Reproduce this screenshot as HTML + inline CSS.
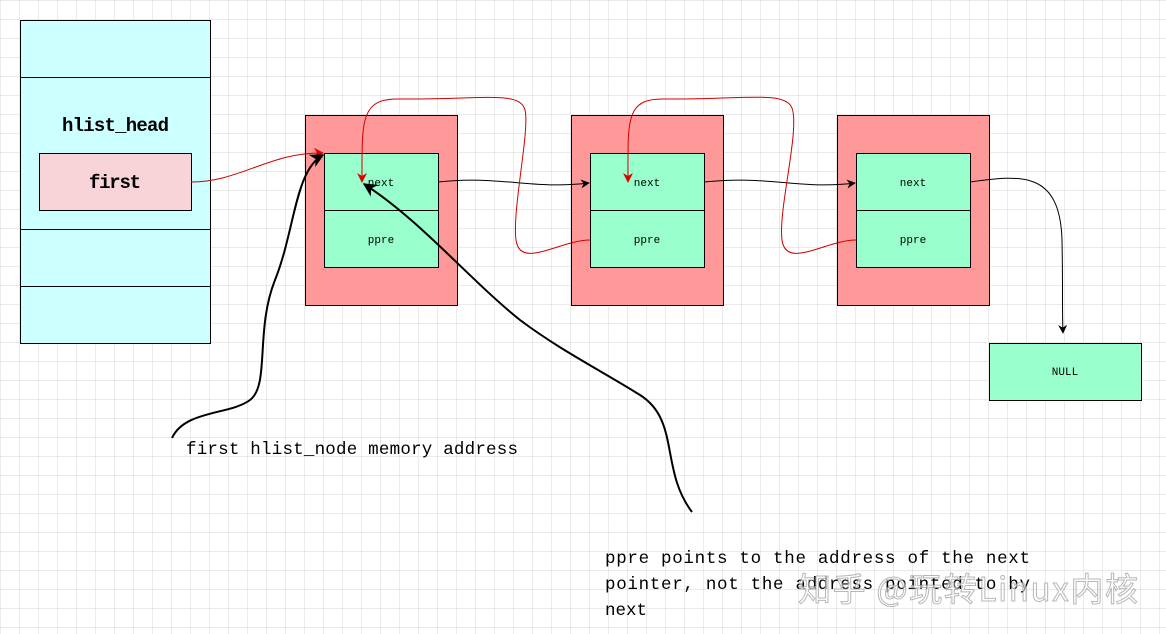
<!DOCTYPE html>
<html><head><meta charset="utf-8"><style>
html,body{margin:0;padding:0;background:#fff}
svg{display:block}
.m{font-family:"Liberation Mono","Noto Sans CJK SC",monospace}
</style></head><body>
<svg width="1166" height="634" xmlns="http://www.w3.org/2000/svg">
<defs>
<pattern id="g" x="1" y="1" width="19" height="19" patternUnits="userSpaceOnUse">
<path d="M19 0V19M0 19H19" fill="none" stroke="#d4d4d4" stroke-width="1"/>
</pattern>
<marker id="ab" viewBox="0 0 10 10" refX="9" refY="5" markerWidth="7" markerHeight="7" orient="auto"><path d="M0 0L10 5L0 10L3 5z" fill="#000"/></marker>
<marker id="ar" viewBox="0 0 10 10" refX="9" refY="5" markerWidth="10" markerHeight="10" orient="auto"><path d="M0 0L10 5L0 10L3 5z" fill="#e00000"/></marker>
<marker id="abt" viewBox="0 0 10 10" refX="9" refY="5" markerWidth="9" markerHeight="9" orient="auto"><path d="M0 0L10 5L0 10L3 5z" fill="#000"/></marker>
</defs>
<rect width="1166" height="634" fill="url(#g)"/>
<rect x="20.5" y="20.5" width="190" height="323" fill="#ccffff" stroke="#000"/>
<path d="M20 77.5H210M20 229.5H210M20 286.5H210" stroke="#000"/>
<text x="62" y="131" textLength="107" class="m" font-size="19" font-weight="bold">hlist_head</text>
<rect x="39.5" y="153.5" width="152" height="57" fill="#f8d3d8" stroke="#000"/>
<text x="89" y="188" textLength="52" class="m" font-size="19" font-weight="bold">first</text>
<g stroke="#000">
<rect x="305.5" y="115.5" width="152" height="190" fill="#ff9999"/>
<rect x="324.5" y="153.5" width="114" height="114" fill="#99ffcc"/>
<path d="M324 210.5H438"/>
<rect x="571.5" y="115.5" width="152" height="190" fill="#ff9999"/>
<rect x="590.5" y="153.5" width="114" height="114" fill="#99ffcc"/>
<path d="M590 210.5H704"/>
<rect x="837.5" y="115.5" width="152" height="190" fill="#ff9999"/>
<rect x="856.5" y="153.5" width="114" height="114" fill="#99ffcc"/>
<path d="M856 210.5H970"/>
<rect x="989.5" y="343.5" width="152" height="57" fill="#99ffcc"/>
</g>
<g class="m" font-size="11" text-anchor="middle">
<text x="381" y="186">next</text><text x="381" y="243">ppre</text>
<text x="647" y="186">next</text><text x="647" y="243">ppre</text>
<text x="913" y="186">next</text><text x="913" y="243">ppre</text>
<text x="1065" y="375">NULL</text>
</g>
<g fill="none" stroke="#000" stroke-width="1">
<path d="M438 182C500 175 530 190 589 183" marker-end="url(#abt)"/>
<path d="M704 182C770 175 800 190 855 183" marker-end="url(#abt)"/>
<path d="M970 182C1020 175 1060 170 1062 240C1063 290 1062 310 1063 333" marker-end="url(#abt)"/>
</g>
<g fill="none" stroke="#d00000" stroke-width="1">
<path d="M191 182C240 182 270 152 323 153" marker-end="url(#ar)"/>
<path d="M590 240C560 240 520 270 516 240C512 210 530 130 525 110C520 90 480 100 400 99C360 98 362 120 362 182" marker-end="url(#ar)"/>
<path d="M856 240C826 240 786 270 782 240C778 210 800 130 792 108C785 90 740 100 665 99C625 98 628 120 628 182" marker-end="url(#ar)"/>
</g>
<g fill="none" stroke="#000" stroke-width="2">
<path d="M172 438C185 410 230 415 250 400C270 385 255 330 275 280C295 230 295 170 323 155" marker-end="url(#ab)"/>
<path d="M692 512C660 470 680 420 640 395C600 370 560 350 520 320C470 280 420 220 364 184" marker-end="url(#ab)"/>
</g>
<g class="m" font-size="17.5">
<text x="186" y="454" textLength="332">first hlist_node memory address</text>
<text x="605" y="563" textLength="425">ppre points to the address of the next</text>
<text x="605" y="589" textLength="425">pointer, not the address pointed to by</text>
<text x="605" y="615">next</text>
</g>
<text x="798" y="601" textLength="340" font-family="'Noto Sans CJK SC',sans-serif" font-size="33" fill="#ffffff" fill-opacity="0.6" stroke="#999" stroke-opacity="0.7" stroke-width="1">知乎 @玩转Linux内核</text>
</svg>
</body></html>
